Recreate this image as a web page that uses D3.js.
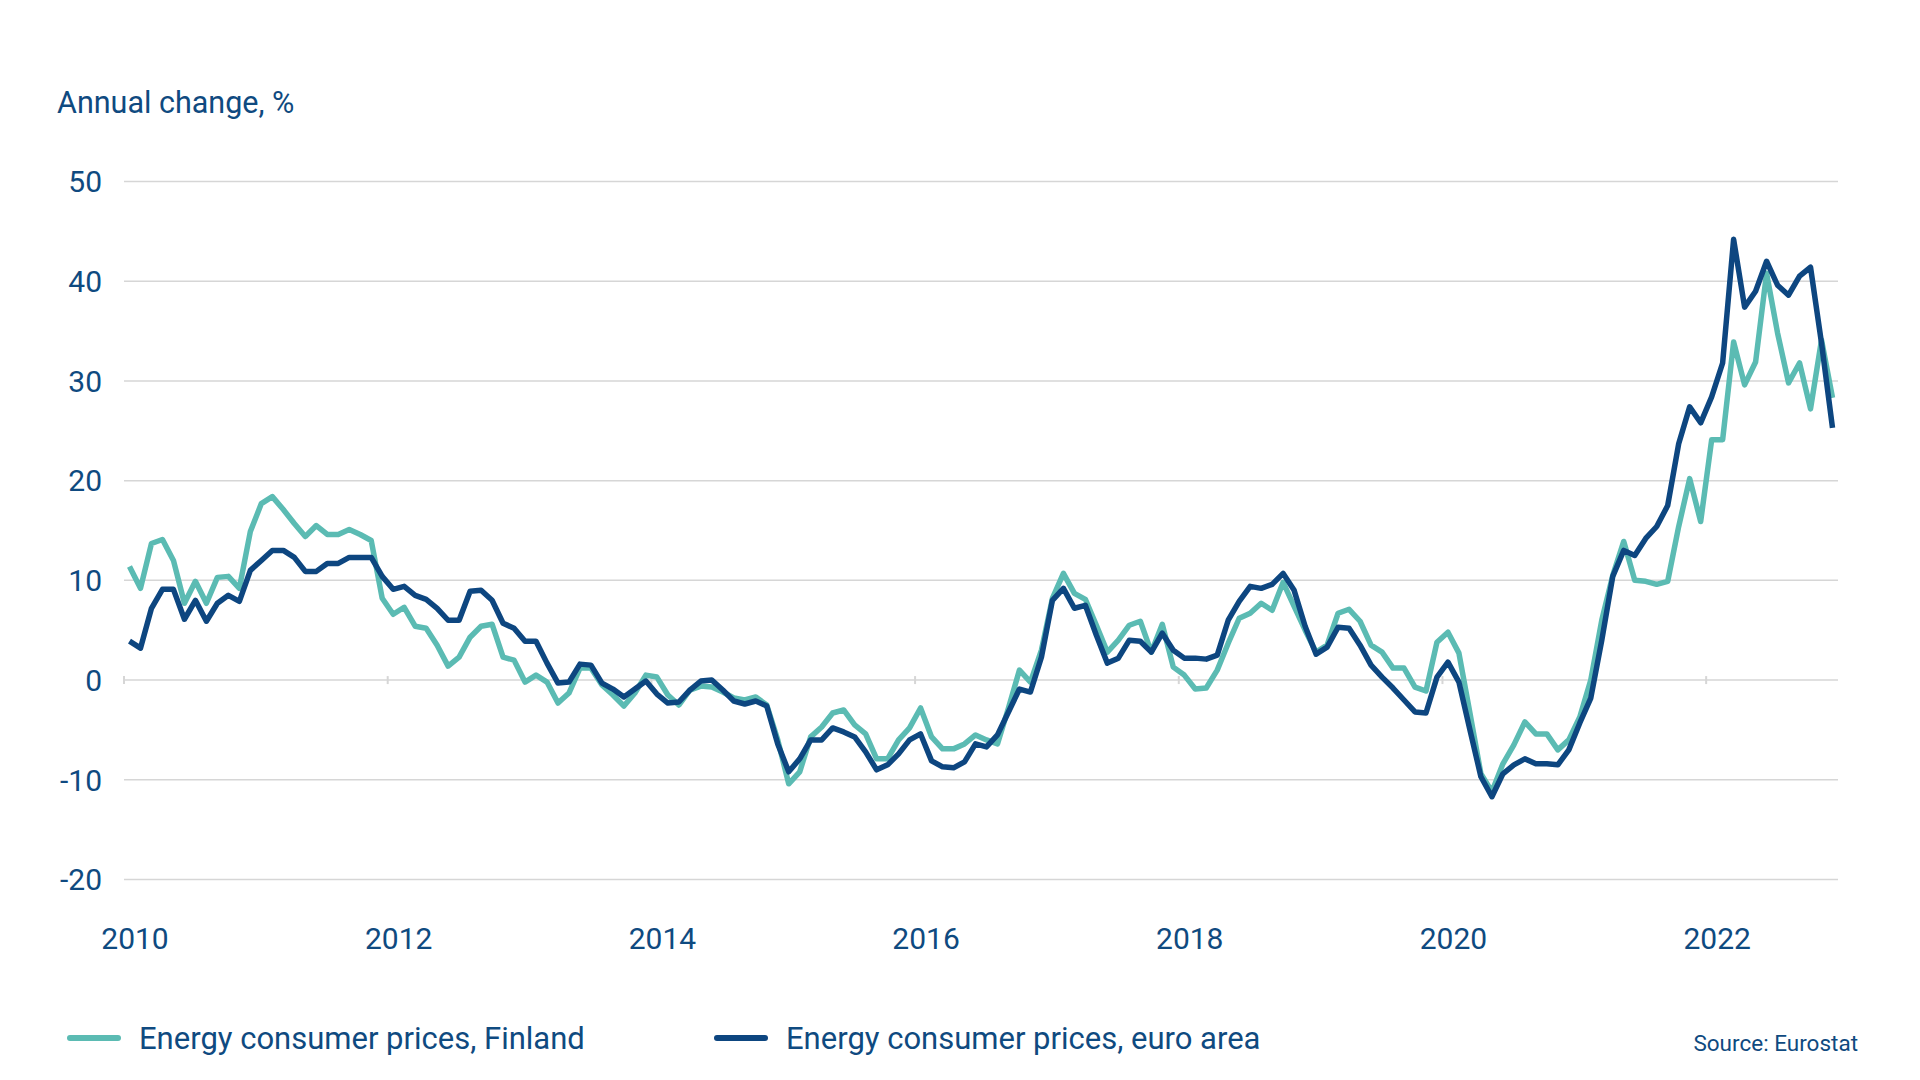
<!DOCTYPE html>
<html>
<head>
<meta charset="utf-8">
<script src="https://cdn.jsdelivr.net/npm/d3@7"></script>
<style>
  body { margin: 0; background: #fff; }
  text { font-family: Roboto, "Noto Sans", sans-serif; fill: #0f4a80; }
</style>
</head>
<body>
<div id="target"></div>
<script>
const width = 1920,
  height = 1080;

const startYear = 2010;
const yearTicks = [2010, 2012, 2014, 2016, 2018, 2020, 2022];
const yTicks = [-20, -10, 0, 10, 20, 30, 40, 50];

// monthly annual change, %, Jan 2010 - Dec 2022
const finland = [
  11.4, 9.2, 13.7, 14.1, 12.0, 7.7, 9.9, 7.7, 10.3, 10.4, 9.2, 14.9,
  17.7, 18.4, 17.1, 15.7, 14.4, 15.5, 14.6, 14.6, 15.1, 14.6, 14.0, 8.2,
  6.6, 7.3, 5.4, 5.2, 3.5, 1.4, 2.3, 4.3, 5.4, 5.6, 2.3, 2.0,
  -0.2, 0.5, -0.2, -2.3, -1.3, 1.2, 1.2, -0.5, -1.5, -2.6, -1.3, 0.5,
  0.3, -1.5, -2.5, -1.0, -0.6, -0.7, -1.2, -1.8, -2.0, -1.7, -2.5, -6.0,
  -10.4, -9.2, -5.7, -4.7, -3.3, -3.0, -4.5, -5.4, -7.9, -7.9, -6.0, -4.8,
  -2.8, -5.7, -6.9, -6.9, -6.4, -5.5, -6.0, -6.4, -2.8, 1.0, -0.2, 3.0,
  8.2, 10.7, 8.7, 8.1, 5.5, 2.8, 4.0, 5.5, 5.9, 2.8, 5.6, 1.3,
  0.5, -0.9, -0.8, 1.0, 3.7, 6.2, 6.7, 7.7, 7.0, 9.8, 7.4, 5.0,
  2.8, 3.5, 6.7, 7.1, 5.9, 3.5, 2.8, 1.2, 1.2, -0.7, -1.1, 3.8,
  4.8, 2.7, -3.3, -9.4, -11.2, -8.4, -6.5, -4.2, -5.4, -5.4, -7.0, -6.0,
  -3.7, 0.0, 6.0, 10.5, 13.9, 10.0, 9.9, 9.6, 9.9, 15.4, 20.2, 15.9,
  24.1, 24.1, 33.9, 29.6, 31.9, 40.8, 34.8, 29.8, 31.8, 27.2, 34.1, 28.3
];

const euroArea = [
  3.9, 3.2, 7.2, 9.1, 9.1, 6.1, 8.0, 5.9, 7.7, 8.5, 7.9, 11.0,
  12.0, 13.0, 13.0, 12.3, 10.9, 10.9, 11.7, 11.7, 12.3, 12.3, 12.3, 10.4,
  9.1, 9.4, 8.5, 8.1, 7.2, 6.0, 6.0, 8.9, 9.0, 8.0, 5.7, 5.2,
  3.9, 3.9, 1.7, -0.3, -0.2, 1.6, 1.5, -0.3, -0.9, -1.7, -0.9, -0.1,
  -1.4, -2.3, -2.2, -1.0, -0.1, 0.0, -1.0, -2.1, -2.4, -2.1, -2.6, -6.4,
  -9.2, -7.9, -6.0, -6.0, -4.8, -5.2, -5.7, -7.2, -9.0, -8.5, -7.4, -6.0,
  -5.4, -8.1, -8.7, -8.8, -8.2, -6.4, -6.7, -5.5, -3.2, -0.9, -1.2, 2.3,
  8.0, 9.2, 7.2, 7.5, 4.5, 1.7, 2.2, 4.0, 3.9, 2.8, 4.7, 3.0,
  2.2, 2.2, 2.1, 2.5, 6.0, 7.9, 9.4, 9.2, 9.6, 10.7, 9.0, 5.4,
  2.6, 3.3, 5.3, 5.2, 3.5, 1.5, 0.3, -0.8, -2.0, -3.2, -3.3, 0.3,
  1.8, -0.2, -5.0, -9.7, -11.7, -9.4, -8.5, -7.9, -8.4, -8.4, -8.5, -7.0,
  -4.3, -1.8, 4.0, 10.4, 13.0, 12.5, 14.2, 15.4, 17.5, 23.7, 27.4, 25.8,
  28.4, 31.8, 44.2, 37.4, 39.0, 42.0, 39.6, 38.6, 40.5, 41.4, 33.8, 25.3
];

const series = [
  { name: "Energy consumer prices, Finland", values: finland, color: "#5bbbb3" },
  { name: "Energy consumer prices, euro area", values: euroArea, color: "#0d4680" }
];

const x = d3.scaleLinear()
  .domain([0, finland.length])
  .range([124, 1838]);

const y = d3.scaleLinear()
  .domain([-20, 50])
  .range([879.5, 181.5]);

const svg = d3.select("#target").append("svg")
  .attr("width", width)
  .attr("height", height);

// gridlines
svg.append("g")
  .selectAll("line")
  .data(yTicks)
  .enter()
  .append("line")
  .attr("x1", x(0))
  .attr("x2", x(finland.length))
  .attr("y1", (d) => y(d))
  .attr("y2", (d) => y(d))
  .attr("stroke", "#d6d6d6")
  .attr("stroke-width", 1.5);

// year ticks on zero line
svg.append("g")
  .selectAll("line")
  .data(yearTicks)
  .enter()
  .append("line")
  .attr("x1", (d) => x((d - startYear) * 12))
  .attr("x2", (d) => x((d - startYear) * 12))
  .attr("y1", y(0) - 4)
  .attr("y2", y(0) + 4)
  .attr("stroke", "#d6d6d6")
  .attr("stroke-width", 2);

// y labels
svg.append("g")
  .selectAll("text")
  .data(yTicks)
  .enter()
  .append("text")
  .attr("x", 102)
  .attr("y", (d) => y(d))
  .attr("dy", "0.36em")
  .attr("text-anchor", "end")
  .style("font-size", "30px")
  .text((d) => d);

// x labels
svg.append("g")
  .selectAll("text")
  .data(yearTicks)
  .enter()
  .append("text")
  .attr("x", (d) => x((d - startYear) * 12) + 11)
  .attr("y", 949)
  .attr("text-anchor", "middle")
  .style("font-size", "30px")
  .text((d) => d);

svg.append("text")
  .attr("x", 57)
  .attr("y", 113)
  .style("font-size", "30.5px")
  .text("Annual change, %");

const line = d3.line()
  .x((d, i) => x(i + 0.5))
  .y((d) => y(d));

svg.selectAll(".series")
  .data(series)
  .enter()
  .append("path")
  .attr("class", "series")
  .attr("d", (d) => line(d.values))
  .attr("fill", "none")
  .attr("stroke", (d) => d.color)
  .attr("stroke-width", 5.5)
  .attr("stroke-linejoin", "round");

// legend
const legendX = [67, 714];
const legend = svg.selectAll(".legend")
  .data(series)
  .enter()
  .append("g")
  .attr("class", "legend")
  .attr("transform", (d, i) => `translate(${legendX[i]},1038)`);

legend.append("line")
  .attr("x1", 3)
  .attr("x2", 51)
  .attr("stroke", (d) => d.color)
  .attr("stroke-width", 6)
  .attr("stroke-linecap", "round");

legend.append("text")
  .attr("x", 72)
  .attr("dy", "0.36em")
  .style("font-size", "31px")
  .text((d) => d.name);

svg.append("text")
  .attr("x", 1858)
  .attr("y", 1043)
  .attr("dy", "0.36em")
  .attr("text-anchor", "end")
  .style("font-size", "22.5px")
  .text("Source: Eurostat");
</script>
</body>
</html>
